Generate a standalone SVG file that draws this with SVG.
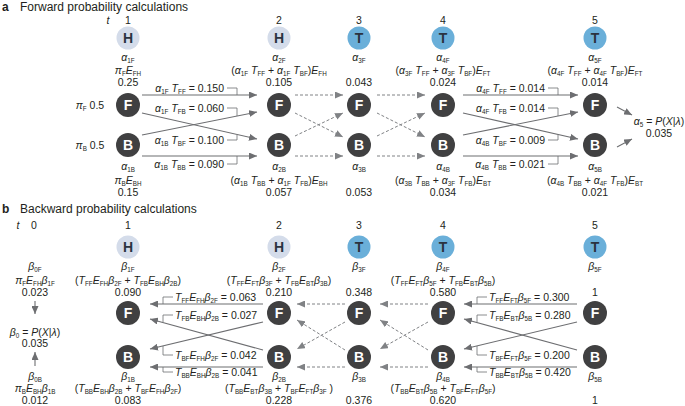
<svg xmlns="http://www.w3.org/2000/svg" width="685" height="406" viewBox="0 0 685 406">
<defs>
<style>
.t{font-family:"Liberation Sans",Arial,sans-serif;font-size:10.5px;fill:#231f20;text-anchor:middle}
.e{text-anchor:end}
.s{text-anchor:start}
.i{font-style:italic}
.sb{font-size:6.3px;font-style:normal}
.ttl{font-family:"Liberation Sans",Arial,sans-serif;font-size:12px;fill:#231f20}
.lt{font-family:"Liberation Sans",Arial,sans-serif;font-size:12px;font-weight:bold;fill:#231f20}
.nl{font-family:"Liberation Sans",Arial,sans-serif;font-size:14px;font-weight:bold;text-anchor:middle}
.h{fill:#d4dcea}
.tt{fill:#6aafd9}
.d{fill:#404041}
.dk{fill:#2b3340}
.wh{fill:#ffffff}
.ln{stroke:#6d6e71;stroke-width:1.1;fill:none}
.dl{stroke:#808285;stroke-width:1;stroke-dasharray:3 2;fill:none}
.br{stroke:#6d6e71;stroke-width:0.8;fill:none}
</style>
<marker id="ah" markerWidth="8" markerHeight="7" refX="8" refY="3.5" orient="auto" markerUnits="userSpaceOnUse"><path d="M0,0 L8,3.5 L0,7 Z" fill="#6d6e71"/></marker>
<marker id="ahd" markerWidth="8" markerHeight="7" refX="8" refY="3.5" orient="auto" markerUnits="userSpaceOnUse"><path d="M0,0 L8,3.5 L0,7 Z" fill="#808285"/></marker>
</defs>

<!-- Titles -->
<text class="lt" x="2" y="11">a</text>
<text class="ttl" x="20" y="11">Forward probability calculations</text>
<text class="lt" x="2" y="213">b</text>
<text class="ttl" x="20" y="213">Backward probability calculations</text>

<!-- time labels -->
<g id="time-a">
<text class="t i" x="108" y="23.5">t</text>
<text class="t" x="128" y="23.5">1</text>
<text class="t" x="279" y="23.5">2</text>
<text class="t" x="359" y="23.5">3</text>
<text class="t" x="443" y="23.5">4</text>
<text class="t" x="595" y="23.5">5</text>
</g>
<g id="time-b">
<text class="t i" x="18" y="229">t</text>
<text class="t" x="34" y="229">0</text>
<text class="t" x="128" y="229">1</text>
<text class="t" x="279" y="229">2</text>
<text class="t" x="359" y="229">3</text>
<text class="t" x="443" y="229">4</text>
<text class="t" x="595" y="229">5</text>
</g>

<!-- Connectors -->
<g id="connectors">
<line class="ln" x1="142" y1="95" x2="257" y2="95" marker-end="url(#ah)"/>
<line class="ln" x1="142" y1="113" x2="257" y2="139" marker-end="url(#ah)"/>
<line class="ln" x1="142" y1="135" x2="257" y2="112" marker-end="url(#ah)"/>
<line class="ln" x1="142" y1="156" x2="257" y2="156" marker-end="url(#ah)"/>
<path class="br" d="M227,88 H237 V95 M227,108 H237 V116 M227,140 H237 V135 M227,164 H237 V156"/>
<line class="dl" x1="295" y1="95" x2="343" y2="95" marker-end="url(#ahd)"/>
<line class="dl" x1="295" y1="113" x2="343" y2="137" marker-end="url(#ahd)"/>
<line class="dl" x1="295" y1="136" x2="343" y2="113" marker-end="url(#ahd)"/>
<line class="dl" x1="295" y1="156" x2="343" y2="156" marker-end="url(#ahd)"/>
<line class="dl" x1="377" y1="95" x2="425" y2="95" marker-end="url(#ahd)"/>
<line class="dl" x1="377" y1="113" x2="425" y2="137" marker-end="url(#ahd)"/>
<line class="dl" x1="377" y1="136" x2="425" y2="113" marker-end="url(#ahd)"/>
<line class="dl" x1="377" y1="156" x2="425" y2="156" marker-end="url(#ahd)"/>
<line class="ln" x1="463" y1="95" x2="578" y2="95" marker-end="url(#ah)"/>
<line class="ln" x1="463" y1="113" x2="578" y2="139" marker-end="url(#ah)"/>
<line class="ln" x1="463" y1="135" x2="578" y2="112" marker-end="url(#ah)"/>
<line class="ln" x1="463" y1="156" x2="578" y2="156" marker-end="url(#ah)"/>
<path class="br" d="M548,88 H558 V95 M548,108 H558 V116 M548,140 H558 V135 M548,164 H558 V156"/>
<line class="ln" x1="617" y1="107" x2="632" y2="115" marker-end="url(#ah)"/>
<line class="ln" x1="617" y1="147" x2="632" y2="139" marker-end="url(#ah)"/>

<line class="ln" x1="263" y1="304" x2="150" y2="304" marker-end="url(#ah)"/>
<line class="ln" x1="263" y1="322" x2="150" y2="349" marker-end="url(#ah)"/>
<line class="ln" x1="263" y1="350" x2="150" y2="319" marker-end="url(#ah)"/>
<line class="ln" x1="263" y1="367" x2="150" y2="367" marker-end="url(#ah)"/>
<path class="br" d="M173,297 H163 V304 M173,315 H163 V322 M173,355 H163 V346 M173,372 H163 V367"/>
<line class="dl" x1="345" y1="304" x2="297" y2="304" marker-end="url(#ahd)"/>
<line class="dl" x1="345" y1="322" x2="297" y2="349" marker-end="url(#ahd)"/>
<line class="dl" x1="345" y1="350" x2="297" y2="320" marker-end="url(#ahd)"/>
<line class="dl" x1="345" y1="367" x2="297" y2="367" marker-end="url(#ahd)"/>
<line class="dl" x1="428" y1="304" x2="380" y2="304" marker-end="url(#ahd)"/>
<line class="dl" x1="428" y1="322" x2="380" y2="349" marker-end="url(#ahd)"/>
<line class="dl" x1="428" y1="350" x2="380" y2="320" marker-end="url(#ahd)"/>
<line class="dl" x1="428" y1="367" x2="380" y2="367" marker-end="url(#ahd)"/>
<line class="ln" x1="577" y1="304" x2="464" y2="304" marker-end="url(#ah)"/>
<line class="ln" x1="577" y1="322" x2="464" y2="349" marker-end="url(#ah)"/>
<line class="ln" x1="577" y1="350" x2="464" y2="319" marker-end="url(#ah)"/>
<line class="ln" x1="577" y1="367" x2="464" y2="367" marker-end="url(#ah)"/>
<path class="br" d="M487,297 H477 V304 M487,315 H477 V322 M487,355 H477 V346 M487,372 H477 V367"/>
<line class="ln" x1="35" y1="301" x2="35" y2="314" marker-end="url(#ah)"/>
<line class="ln" x1="35" y1="366" x2="35" y2="352" marker-end="url(#ah)"/>
</g>

<g id="edge-labels-a">
<text class="t e" x="224" y="92"><tspan class="i">α</tspan><tspan class="sb" dy="2">1F</tspan><tspan class="i" dy="-2"> T</tspan><tspan class="sb" dy="2">FF</tspan><tspan dy="-2"> = 0.150</tspan></text>
<text class="t e" x="224" y="112"><tspan class="i">α</tspan><tspan class="sb" dy="2">1F</tspan><tspan class="i" dy="-2"> T</tspan><tspan class="sb" dy="2">FB</tspan><tspan dy="-2"> = 0.060</tspan></text>
<text class="t e" x="224" y="144"><tspan class="i">α</tspan><tspan class="sb" dy="2">1B</tspan><tspan class="i" dy="-2"> T</tspan><tspan class="sb" dy="2">BF</tspan><tspan dy="-2"> = 0.100</tspan></text>
<text class="t e" x="224" y="168"><tspan class="i">α</tspan><tspan class="sb" dy="2">1B</tspan><tspan class="i" dy="-2"> T</tspan><tspan class="sb" dy="2">BB</tspan><tspan dy="-2"> = 0.090</tspan></text>
<text class="t e" x="545" y="92"><tspan class="i">α</tspan><tspan class="sb" dy="2">4F</tspan><tspan class="i" dy="-2"> T</tspan><tspan class="sb" dy="2">FF</tspan><tspan dy="-2"> = 0.014</tspan></text>
<text class="t e" x="545" y="112"><tspan class="i">α</tspan><tspan class="sb" dy="2">4F</tspan><tspan class="i" dy="-2"> T</tspan><tspan class="sb" dy="2">FB</tspan><tspan dy="-2"> = 0.014</tspan></text>
<text class="t e" x="545" y="144"><tspan class="i">α</tspan><tspan class="sb" dy="2">4B</tspan><tspan class="i" dy="-2"> T</tspan><tspan class="sb" dy="2">BF</tspan><tspan dy="-2"> = 0.009</tspan></text>
<text class="t e" x="545" y="168"><tspan class="i">α</tspan><tspan class="sb" dy="2">4B</tspan><tspan class="i" dy="-2"> T</tspan><tspan class="sb" dy="2">BB</tspan><tspan dy="-2"> = 0.021</tspan></text>
</g>

<g id="edge-labels-b">
<text class="t s" x="175" y="301"><tspan class="i">T</tspan><tspan class="sb" dy="2">FF</tspan><tspan class="i" dy="-2">E</tspan><tspan class="sb" dy="2">FH</tspan><tspan class="i" dy="-2">β</tspan><tspan class="sb" dy="2">2F</tspan><tspan dy="-2"> = 0.063</tspan></text>
<text class="t s" x="175" y="319"><tspan class="i">T</tspan><tspan class="sb" dy="2">FB</tspan><tspan class="i" dy="-2">E</tspan><tspan class="sb" dy="2">BH</tspan><tspan class="i" dy="-2">β</tspan><tspan class="sb" dy="2">2B</tspan><tspan dy="-2"> = 0.027</tspan></text>
<text class="t s" x="175" y="359"><tspan class="i">T</tspan><tspan class="sb" dy="2">BF</tspan><tspan class="i" dy="-2">E</tspan><tspan class="sb" dy="2">FH</tspan><tspan class="i" dy="-2">β</tspan><tspan class="sb" dy="2">2F</tspan><tspan dy="-2"> = 0.042</tspan></text>
<text class="t s" x="175" y="376"><tspan class="i">T</tspan><tspan class="sb" dy="2">BB</tspan><tspan class="i" dy="-2">E</tspan><tspan class="sb" dy="2">BH</tspan><tspan class="i" dy="-2">β</tspan><tspan class="sb" dy="2">2B</tspan><tspan dy="-2"> = 0.041</tspan></text>
<text class="t s" x="489" y="301"><tspan class="i">T</tspan><tspan class="sb" dy="2">FF</tspan><tspan class="i" dy="-2">E</tspan><tspan class="sb" dy="2">FT</tspan><tspan class="i" dy="-2">β</tspan><tspan class="sb" dy="2">5F</tspan><tspan dy="-2"> = 0.300</tspan></text>
<text class="t s" x="489" y="319"><tspan class="i">T</tspan><tspan class="sb" dy="2">FB</tspan><tspan class="i" dy="-2">E</tspan><tspan class="sb" dy="2">BT</tspan><tspan class="i" dy="-2">β</tspan><tspan class="sb" dy="2">5B</tspan><tspan dy="-2"> = 0.280</tspan></text>
<text class="t s" x="489" y="359"><tspan class="i">T</tspan><tspan class="sb" dy="2">BF</tspan><tspan class="i" dy="-2">E</tspan><tspan class="sb" dy="2">FT</tspan><tspan class="i" dy="-2">β</tspan><tspan class="sb" dy="2">5F</tspan><tspan dy="-2"> = 0.200</tspan></text>
<text class="t s" x="489" y="376"><tspan class="i">T</tspan><tspan class="sb" dy="2">BB</tspan><tspan class="i" dy="-2">E</tspan><tspan class="sb" dy="2">BT</tspan><tspan class="i" dy="-2">β</tspan><tspan class="sb" dy="2">5B</tspan><tspan dy="-2"> = 0.420</tspan></text>
</g>

<g id="a-H1"><circle class="h" cx="128" cy="38" r="11.5"/><text class="nl dk" x="128" y="43">H</text></g>
<g id="a-H2"><circle class="h" cx="279" cy="38" r="11.5"/><text class="nl dk" x="279" y="43">H</text></g>
<g id="a-T3"><circle class="tt" cx="359" cy="38" r="11.5"/><text class="nl dk" x="359" y="43">T</text></g>
<g id="a-T4"><circle class="tt" cx="443" cy="38" r="11.5"/><text class="nl dk" x="443" y="43">T</text></g>
<g id="a-T5"><circle class="tt" cx="595" cy="38" r="11.5"/><text class="nl dk" x="595" y="43">T</text></g>

<g id="a-F1"><circle class="d" cx="128" cy="105" r="12"/><text class="nl wh" x="128" y="110">F</text>
<text class="t" x="128" y="61"><tspan class="i">α</tspan><tspan class="sb" dy="2">1F</tspan></text>
<text class="t" x="128" y="74"><tspan class="i">π</tspan><tspan class="sb" dy="2">F</tspan><tspan class="i" dy="-2">E</tspan><tspan class="sb" dy="2">FH</tspan></text>
<text class="t" x="128" y="86">0.25</text>
<text class="t" x="90" y="109"><tspan class="i">π</tspan><tspan class="sb" dy="2">F</tspan><tspan dy="-2"> 0.5</tspan></text>
</g>
<g id="a-B1"><circle class="d" cx="128" cy="145" r="12"/><text class="nl wh" x="128" y="150">B</text>
<text class="t" x="128" y="170"><tspan class="i">α</tspan><tspan class="sb" dy="2">1B</tspan></text>
<text class="t" x="128" y="184"><tspan class="i">π</tspan><tspan class="sb" dy="2">B</tspan><tspan class="i" dy="-2">E</tspan><tspan class="sb" dy="2">BH</tspan></text>
<text class="t" x="128" y="196">0.15</text>
<text class="t" x="90" y="149"><tspan class="i">π</tspan><tspan class="sb" dy="2">B</tspan><tspan dy="-2"> 0.5</tspan></text>
</g>

<g id="a-F2"><circle class="d" cx="279" cy="105" r="12"/><text class="nl wh" x="279" y="110">F</text>
<text class="t" x="279" y="61"><tspan class="i">α</tspan><tspan class="sb" dy="2">2F</tspan></text>
<text class="t" x="279" y="74">(<tspan class="i">α</tspan><tspan class="sb" dy="2">1F</tspan><tspan class="i" dy="-2"> T</tspan><tspan class="sb" dy="2">FF</tspan><tspan dy="-2"> + </tspan><tspan class="i">α</tspan><tspan class="sb" dy="2">1F</tspan><tspan class="i" dy="-2"> T</tspan><tspan class="sb" dy="2">BF</tspan><tspan dy="-2">)</tspan><tspan class="i">E</tspan><tspan class="sb" dy="2">FH</tspan></text>
<text class="t" x="279" y="86">0.105</text>
</g>
<g id="a-B2"><circle class="d" cx="279" cy="145" r="12"/><text class="nl wh" x="279" y="150">B</text>
<text class="t" x="279" y="170"><tspan class="i">α</tspan><tspan class="sb" dy="2">2B</tspan></text>
<text class="t" x="279" y="184">(<tspan class="i">α</tspan><tspan class="sb" dy="2">1B</tspan><tspan class="i" dy="-2"> T</tspan><tspan class="sb" dy="2">BB</tspan><tspan dy="-2"> + </tspan><tspan class="i">α</tspan><tspan class="sb" dy="2">1F</tspan><tspan class="i" dy="-2"> T</tspan><tspan class="sb" dy="2">FB</tspan><tspan dy="-2">)</tspan><tspan class="i">E</tspan><tspan class="sb" dy="2">BH</tspan></text>
<text class="t" x="279" y="196">0.057</text>
</g>

<g id="a-F3"><circle class="d" cx="359" cy="105" r="12"/><text class="nl wh" x="359" y="110">F</text>
<text class="t" x="359" y="61"><tspan class="i">α</tspan><tspan class="sb" dy="2">3F</tspan></text>
<text class="t" x="359" y="86">0.043</text>
</g>
<g id="a-B3"><circle class="d" cx="359" cy="145" r="12"/><text class="nl wh" x="359" y="150">B</text>
<text class="t" x="359" y="170"><tspan class="i">α</tspan><tspan class="sb" dy="2">3B</tspan></text>
<text class="t" x="359" y="196">0.053</text>
</g>

<g id="a-F4"><circle class="d" cx="443" cy="105" r="12"/><text class="nl wh" x="443" y="110">F</text>
<text class="t" x="443" y="61"><tspan class="i">α</tspan><tspan class="sb" dy="2">4F</tspan></text>
<text class="t" x="443" y="74">(<tspan class="i">α</tspan><tspan class="sb" dy="2">3F</tspan><tspan class="i" dy="-2"> T</tspan><tspan class="sb" dy="2">FF</tspan><tspan dy="-2"> + </tspan><tspan class="i">α</tspan><tspan class="sb" dy="2">3F</tspan><tspan class="i" dy="-2"> T</tspan><tspan class="sb" dy="2">BF</tspan><tspan dy="-2">)</tspan><tspan class="i">E</tspan><tspan class="sb" dy="2">FT</tspan></text>
<text class="t" x="443" y="86">0.024</text>
</g>
<g id="a-B4"><circle class="d" cx="443" cy="145" r="12"/><text class="nl wh" x="443" y="150">B</text>
<text class="t" x="443" y="170"><tspan class="i">α</tspan><tspan class="sb" dy="2">4B</tspan></text>
<text class="t" x="443" y="184">(<tspan class="i">α</tspan><tspan class="sb" dy="2">3B</tspan><tspan class="i" dy="-2"> T</tspan><tspan class="sb" dy="2">BB</tspan><tspan dy="-2"> + </tspan><tspan class="i">α</tspan><tspan class="sb" dy="2">3F</tspan><tspan class="i" dy="-2"> T</tspan><tspan class="sb" dy="2">FB</tspan><tspan dy="-2">)</tspan><tspan class="i">E</tspan><tspan class="sb" dy="2">BT</tspan></text>
<text class="t" x="443" y="196">0.034</text>
</g>

<g id="a-F5"><circle class="d" cx="595" cy="105" r="12"/><text class="nl wh" x="595" y="110">F</text>
<text class="t" x="595" y="61"><tspan class="i">α</tspan><tspan class="sb" dy="2">5F</tspan></text>
<text class="t" x="595" y="74">(<tspan class="i">α</tspan><tspan class="sb" dy="2">4F</tspan><tspan class="i" dy="-2"> T</tspan><tspan class="sb" dy="2">FF</tspan><tspan dy="-2"> + </tspan><tspan class="i">α</tspan><tspan class="sb" dy="2">4F</tspan><tspan class="i" dy="-2"> T</tspan><tspan class="sb" dy="2">BF</tspan><tspan dy="-2">)</tspan><tspan class="i">E</tspan><tspan class="sb" dy="2">FT</tspan></text>
<text class="t" x="595" y="86">0.014</text>
</g>
<g id="a-B5"><circle class="d" cx="595" cy="145" r="12"/><text class="nl wh" x="595" y="150">B</text>
<text class="t" x="595" y="170"><tspan class="i">α</tspan><tspan class="sb" dy="2">5B</tspan></text>
<text class="t" x="595" y="184">(<tspan class="i">α</tspan><tspan class="sb" dy="2">4B</tspan><tspan class="i" dy="-2"> T</tspan><tspan class="sb" dy="2">BB</tspan><tspan dy="-2"> + </tspan><tspan class="i">α</tspan><tspan class="sb" dy="2">4F</tspan><tspan class="i" dy="-2"> T</tspan><tspan class="sb" dy="2">FB</tspan><tspan dy="-2">)</tspan><tspan class="i">E</tspan><tspan class="sb" dy="2">BT</tspan></text>
<text class="t" x="595" y="196">0.021</text>
</g>

<g id="a-result">
<text class="t" x="659" y="125"><tspan class="i">α</tspan><tspan class="sb" dy="2">5</tspan><tspan dy="-2"> = </tspan><tspan class="i">P</tspan>(<tspan class="i">X</tspan>|<tspan class="i">λ</tspan>)</text>
<text class="t" x="659" y="137">0.035</text>
</g>

<g id="b-col0">
<text class="t" x="35" y="270"><tspan class="i">β</tspan><tspan class="sb" dy="2">0F</tspan></text>
<text class="t" x="35" y="284"><tspan class="i">π</tspan><tspan class="sb" dy="2">F</tspan><tspan class="i" dy="-2">E</tspan><tspan class="sb" dy="2">FH</tspan><tspan class="i" dy="-2">β</tspan><tspan class="sb" dy="2">1F</tspan></text>
<text class="t" x="35" y="296">0.023</text>
<text class="t" x="35" y="336"><tspan class="i">β</tspan><tspan class="sb" dy="2">0</tspan><tspan dy="-2"> = </tspan><tspan class="i">P</tspan>(<tspan class="i">X</tspan>|<tspan class="i">λ</tspan>)</text>
<text class="t" x="35" y="347">0.035</text>
<text class="t" x="35" y="380"><tspan class="i">β</tspan><tspan class="sb" dy="2">0B</tspan></text>
<text class="t" x="35" y="392"><tspan class="i">π</tspan><tspan class="sb" dy="2">B</tspan><tspan class="i" dy="-2">E</tspan><tspan class="sb" dy="2">BH</tspan><tspan class="i" dy="-2">β</tspan><tspan class="sb" dy="2">1B</tspan></text>
<text class="t" x="35" y="404">0.012</text>
</g>

<g id="b-H1"><circle class="h" cx="128" cy="247" r="11.5"/><text class="nl dk" x="128" y="252">H</text></g>
<g id="b-H2"><circle class="h" cx="279" cy="247" r="11.5"/><text class="nl dk" x="279" y="252">H</text></g>
<g id="b-T3"><circle class="tt" cx="359" cy="247" r="11.5"/><text class="nl dk" x="359" y="252">T</text></g>
<g id="b-T4"><circle class="tt" cx="443" cy="247" r="11.5"/><text class="nl dk" x="443" y="252">T</text></g>
<g id="b-T5"><circle class="tt" cx="595" cy="247" r="11.5"/><text class="nl dk" x="595" y="252">T</text></g>

<g id="b-F1"><circle class="d" cx="128" cy="313" r="12"/><text class="nl wh" x="128" y="318">F</text>
<text class="t" x="128" y="270"><tspan class="i">β</tspan><tspan class="sb" dy="2">1F</tspan></text>
<text class="t" x="128" y="284">(<tspan class="i">T</tspan><tspan class="sb" dy="2">FF</tspan><tspan class="i" dy="-2">E</tspan><tspan class="sb" dy="2">FH</tspan><tspan class="i" dy="-2">β</tspan><tspan class="sb" dy="2">2F</tspan><tspan dy="-2"> + </tspan><tspan class="i">T</tspan><tspan class="sb" dy="2">FB</tspan><tspan class="i" dy="-2">E</tspan><tspan class="sb" dy="2">BH</tspan><tspan class="i" dy="-2">β</tspan><tspan class="sb" dy="2">2B</tspan><tspan dy="-2">)</tspan></text>
<text class="t" x="128" y="296">0.090</text>
</g>
<g id="b-B1"><circle class="d" cx="128" cy="357" r="12"/><text class="nl wh" x="128" y="362">B</text>
<text class="t" x="128" y="380"><tspan class="i">β</tspan><tspan class="sb" dy="2">1B</tspan></text>
<text class="t" x="128" y="392">(<tspan class="i">T</tspan><tspan class="sb" dy="2">BB</tspan><tspan class="i" dy="-2">E</tspan><tspan class="sb" dy="2">BH</tspan><tspan class="i" dy="-2">β</tspan><tspan class="sb" dy="2">2B</tspan><tspan dy="-2"> + </tspan><tspan class="i">T</tspan><tspan class="sb" dy="2">BF</tspan><tspan class="i" dy="-2">E</tspan><tspan class="sb" dy="2">FH</tspan><tspan class="i" dy="-2">β</tspan><tspan class="sb" dy="2">2F</tspan><tspan dy="-2">)</tspan></text>
<text class="t" x="128" y="404">0.083</text>
</g>

<g id="b-F2"><circle class="d" cx="279" cy="313" r="12"/><text class="nl wh" x="279" y="318">F</text>
<text class="t" x="279" y="270"><tspan class="i">β</tspan><tspan class="sb" dy="2">2F</tspan></text>
<text class="t" x="279" y="284">(<tspan class="i">T</tspan><tspan class="sb" dy="2">FF</tspan><tspan class="i" dy="-2">E</tspan><tspan class="sb" dy="2">FT</tspan><tspan class="i" dy="-2">β</tspan><tspan class="sb" dy="2">3F</tspan><tspan dy="-2"> + </tspan><tspan class="i">T</tspan><tspan class="sb" dy="2">FB</tspan><tspan class="i" dy="-2">E</tspan><tspan class="sb" dy="2">BT</tspan><tspan class="i" dy="-2">β</tspan><tspan class="sb" dy="2">3B</tspan><tspan dy="-2">)</tspan></text>
<text class="t" x="279" y="296">0.210</text>
</g>
<g id="b-B2"><circle class="d" cx="279" cy="357" r="12"/><text class="nl wh" x="279" y="362">B</text>
<text class="t" x="279" y="380"><tspan class="i">β</tspan><tspan class="sb" dy="2">2B</tspan></text>
<text class="t" x="279" y="392">(<tspan class="i">T</tspan><tspan class="sb" dy="2">BB</tspan><tspan class="i" dy="-2">E</tspan><tspan class="sb" dy="2">BT</tspan><tspan class="i" dy="-2">β</tspan><tspan class="sb" dy="2">3B</tspan><tspan dy="-2"> + </tspan><tspan class="i">T</tspan><tspan class="sb" dy="2">BF</tspan><tspan class="i" dy="-2">E</tspan><tspan class="sb" dy="2">FT</tspan><tspan class="i" dy="-2">β</tspan><tspan class="sb" dy="2">3F</tspan><tspan dy="-2"> )</tspan></text>
<text class="t" x="279" y="404">0.228</text>
</g>

<g id="b-F3"><circle class="d" cx="359" cy="313" r="12"/><text class="nl wh" x="359" y="318">F</text>
<text class="t" x="359" y="270"><tspan class="i">β</tspan><tspan class="sb" dy="2">3F</tspan></text>
<text class="t" x="359" y="296">0.348</text>
</g>
<g id="b-B3"><circle class="d" cx="359" cy="357" r="12"/><text class="nl wh" x="359" y="362">B</text>
<text class="t" x="359" y="380"><tspan class="i">β</tspan><tspan class="sb" dy="2">3B</tspan></text>
<text class="t" x="359" y="404">0.376</text>
</g>

<g id="b-F4"><circle class="d" cx="443" cy="313" r="12"/><text class="nl wh" x="443" y="318">F</text>
<text class="t" x="443" y="270"><tspan class="i">β</tspan><tspan class="sb" dy="2">4F</tspan></text>
<text class="t" x="443" y="284">(<tspan class="i">T</tspan><tspan class="sb" dy="2">FF</tspan><tspan class="i" dy="-2">E</tspan><tspan class="sb" dy="2">FT</tspan><tspan class="i" dy="-2">β</tspan><tspan class="sb" dy="2">5F</tspan><tspan dy="-2"> + </tspan><tspan class="i">T</tspan><tspan class="sb" dy="2">FB</tspan><tspan class="i" dy="-2">E</tspan><tspan class="sb" dy="2">BT</tspan><tspan class="i" dy="-2">β</tspan><tspan class="sb" dy="2">5B</tspan><tspan dy="-2">)</tspan></text>
<text class="t" x="443" y="296">0.580</text>
</g>
<g id="b-B4"><circle class="d" cx="443" cy="357" r="12"/><text class="nl wh" x="443" y="362">B</text>
<text class="t" x="443" y="380"><tspan class="i">β</tspan><tspan class="sb" dy="2">4B</tspan></text>
<text class="t" x="443" y="392">(<tspan class="i">T</tspan><tspan class="sb" dy="2">BB</tspan><tspan class="i" dy="-2">E</tspan><tspan class="sb" dy="2">BT</tspan><tspan class="i" dy="-2">β</tspan><tspan class="sb" dy="2">5B</tspan><tspan dy="-2"> + </tspan><tspan class="i">T</tspan><tspan class="sb" dy="2">BF</tspan><tspan class="i" dy="-2">E</tspan><tspan class="sb" dy="2">FT</tspan><tspan class="i" dy="-2">β</tspan><tspan class="sb" dy="2">5F</tspan><tspan dy="-2">)</tspan></text>
<text class="t" x="443" y="404">0.620</text>
</g>

<g id="b-F5"><circle class="d" cx="595" cy="313" r="12"/><text class="nl wh" x="595" y="318">F</text>
<text class="t" x="595" y="270"><tspan class="i">β</tspan><tspan class="sb" dy="2">5F</tspan></text>
<text class="t" x="595" y="296">1</text>
</g>
<g id="b-B5"><circle class="d" cx="595" cy="357" r="12"/><text class="nl wh" x="595" y="362">B</text>
<text class="t" x="595" y="380"><tspan class="i">β</tspan><tspan class="sb" dy="2">5B</tspan></text>
<text class="t" x="595" y="404">1</text>
</g>
</svg>
